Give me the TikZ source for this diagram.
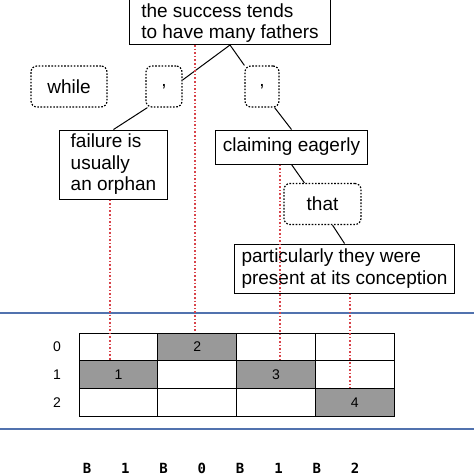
\documentclass[tikz,border=0pt]{standalone}
\usepackage{fontspec}
\setmainfont{Liberation Sans}
\newfontfamily\codefont{DejaVu Sans Mono}
\usetikzlibrary{positioning}
\definecolor{tiered}{HTML}{D8434A}
\definecolor{ruleblue}{HTML}{5172AE}
\definecolor{slotgray}{HTML}{999999}
\tikzset{
  word/.style={draw, line width=1pt, align=left, inner xsep=7.5pt, inner ysep=3pt,
    font=\fontsize{19}{21.5}\selectfont},
  hint/.style={draw, line width=1.2pt, dash pattern=on 1.6pt off 1.6pt, rounded corners=6pt,
    minimum height=41pt, inner sep=2pt, font=\fontsize{19}{21.5}\selectfont},
  edge/.style={line width=1pt},
  tie/.style={tiered, line width=1.2pt, dash pattern=on 1.6pt off 2pt},
  rule/.style={ruleblue, line width=1.5pt},
  cell/.style={draw, line width=1pt, fill=white, minimum width=78.75pt, minimum height=27.7pt,
    inner sep=0pt, font=\fontsize{14}{14}\selectfont},
  slot/.style={cell, fill=slotgray},
  bit/.style={font=\codefont\bfseries\fontsize{14}{14}\selectfont, anchor=base}
}
\begin{document}
\begin{tikzpicture}[x=1pt, y=-1pt]
\useasboundingbox (0,0) rectangle (474,474);
\clip (0,0) rectangle (474,474);

% phrases
\node[word, anchor=south, inner xsep=11.5pt, inner ysep=2pt] (success) at (230,45)
  {\rule{0pt}{40pt}the success tends\\to have many fathers};
\node[hint, minimum width=76pt] (while) at (69,86.5) {while};
\node[hint, minimum width=36pt] (commaL) at (164,86.5) {,};
\node[hint, minimum width=34pt] (commaR) at (262,86.5) {,};
\node[word, inner xsep=11.5pt, minimum height=69pt] (failure) at (113.5,164.5)
  {failure is\\usually\\an orphan};
\node[word, minimum height=34pt] (claiming) at (291.5,147) {claiming eagerly};
\node[hint, minimum width=77pt] (that) at (322.5,204) {that};
\node[word, minimum height=49pt] (present) at (344.5,268.5)
  {particularly they were\\present at its conception};

\draw[edge] (success.south) -- ([yshift=6.5pt]commaL.east);
\draw[edge] (success.south) -- (commaR.north west);
\draw[edge] ([xshift=2pt]commaL.south west) -- (failure.north);
\draw[edge] ([xshift=-5pt]commaR.south east) -- (claiming.north);
\draw[edge] (claiming.south) -- ([xshift=21pt]that.north west);
\draw[edge] ([xshift=10pt]that.south) -- (present.north);

% chart
\draw[rule] (0,313) -- (474,313);
\draw[rule] (0,429) -- (474,429);
\foreach \r in {0,1,2} {
  \node[font=\fontsize{14}{14}\selectfont] (row\r) at (57,347+27.7*\r) {\r};
  \foreach \c in {0,...,3}
    \node[cell] (cell-\r-\c) at (118.4+78.75*\c,347+27.7*\r) {};
}
\foreach \r/\c/\n in {1/0/1, 0/1/2, 1/2/3, 2/3/4}
  \node[slot] (slot\n) at (cell-\r-\c) {\n};

% ties
\coordinate (tieA) at ([xshift=-3.5pt]failure.south);
\coordinate (tieB) at ([xshift=-35pt]success.south);
\coordinate (tieC) at ([xshift=-11.5pt]claiming.south);
\coordinate (tieD) at ([xshift=5.5pt]present.south);
\draw[tie] (tieA) -- (tieA |- slot1.north);
\draw[tie] (tieB) -- (tieB |- slot2.north);
\draw[tie] (tieC) -- (tieC |- slot3.north);
\draw[tie] (tieD) -- (tieD |- slot4.north);

% sequence
\foreach \t [count=\i from 0] in {B,1,B,0,B,1,B,2}
  \node[bit] (bit\i) at (87+38.3*\i,473) {\t};
\end{tikzpicture}
\end{document}
